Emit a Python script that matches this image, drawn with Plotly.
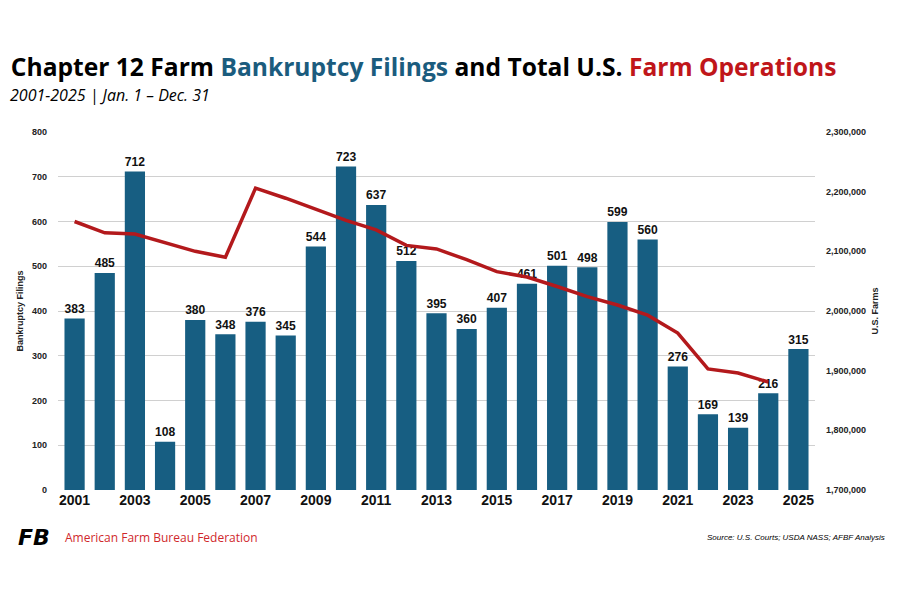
import plotly.graph_objects as go

years = list(range(2001, 2026))
filings = [383, 485, 712, 108, 380, 348, 376, 345, 544, 723, 637, 512, 395, 360,
           407, 461, 501, 498, 599, 560, 276, 169, 139, 216, 315]
farm_years = list(range(2001, 2025))
farms = [2150000, 2131000, 2129000, 2114000, 2100000, 2090000, 2206000, 2189000,
         2171000, 2152000, 2136000, 2110000, 2104000, 2086000, 2066000, 2057000,
         2041000, 2024000, 2010000, 1993000, 1963000, 1903000, 1896000, 1881000]
left_ticks = list(range(0, 801, 100))
right_ticks = list(range(1700000, 2300001, 100000))
x_ticks = list(range(2001, 2026, 2))

BLUE = "#175E82"
RED = "#B3191C"
TICKFONT = dict(family="Liberation Sans", size=9, color="#222", weight="bold")

fig = go.Figure()
fig.add_trace(go.Bar(
    x=years, y=filings, marker=dict(color=BLUE, line=dict(width=0)),
    text=[str(v) for v in filings], textposition="outside",
    textfont=dict(family="Liberation Sans", size=14.5, color="#111", weight="bold"),
    cliponaxis=False, name="Bankruptcy Filings", yaxis="y"))
fig.add_trace(go.Scatter(
    x=farm_years, y=farms, mode="lines", line=dict(color=RED, width=3.5),
    name="U.S. Farms", yaxis="y2"))

fig.update_layout(
    width=900, height=600, showlegend=False,
    paper_bgcolor="white", plot_bgcolor="white",
    margin=dict(l=58, r=85, t=132, b=110),
    bargap=0.33,
    title=dict(
        text="Chapter 12 Farm <span style='color:#1B5C7E'>Bankruptcy Filings</span> and Total U.S. <span style='color:#C0161A'>Farm Operations</span>",
        x=0.012, xanchor="left", y=0.887, yanchor="middle",
        font=dict(family="Open Sans", size=24.6, color="#000", weight="bold")),
    xaxis=dict(tickmode="array", tickvals=x_ticks, ticktext=[str(t) for t in x_ticks],
               range=[2000.45, 2025.55], showgrid=False, ticks="", showline=False,
               tickfont=dict(family="Liberation Sans", size=14, color="#111", weight="bold")),
    yaxis=dict(range=[0, 800], tickvals=left_ticks, showgrid=True, gridcolor="#D0D0D0",
               gridwidth=1, zeroline=False, ticks="", ticklabelstandoff=10,
               tickfont=TICKFONT,
               title=dict(text="Bankruptcy Filings", standoff=6,
                          font=dict(family="Liberation Sans", size=9, color="#222", weight="bold"))),
    yaxis2=dict(range=[1700000, 2300000], tickvals=right_ticks, overlaying="y", side="right",
                showgrid=False, zeroline=False, ticks="", tickformat=",",
                ticklabelstandoff=10, tickfont=TICKFONT,
                title=dict(text="U.S. Farms", standoff=6,
                           font=dict(family="Liberation Sans", size=9, color="#222", weight="bold"))),
)

fig.add_annotation(text="<i>2001-2025 | Jan. 1 – Dec. 31</i>", xref="paper", yref="paper",
                   x=-0.066, y=1.103, xanchor="left", yanchor="middle", showarrow=False,
                   font=dict(family="Open Sans", size=16, color="#000"))
fig.add_annotation(text="<b><i>FB</i></b>", xref="paper", yref="paper",
                   x=-0.056, y=-0.133, xanchor="left", yanchor="middle", showarrow=False,
                   font=dict(family="DejaVu Sans", size=22, color="#000"))
fig.add_annotation(text="American Farm Bureau Federation", xref="paper", yref="paper",
                   x=0.007, y=-0.133, xanchor="left", yanchor="middle", showarrow=False,
                   font=dict(family="Open Sans", size=12, color="#D0282C"))
fig.add_annotation(text="<i>Source: U.S. Courts; USDA NASS; AFBF Analysis</i>", xref="paper", yref="paper",
                   x=1.095, y=-0.133, xanchor="right", yanchor="middle", showarrow=False,
                   font=dict(family="Liberation Sans", size=8, color="#000"))

fig.write_html("out.html")
